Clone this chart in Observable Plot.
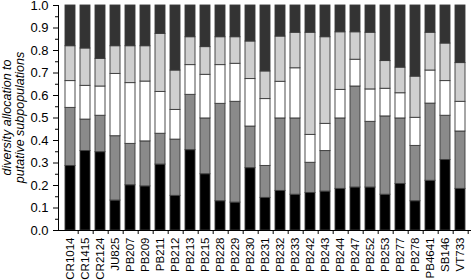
<!DOCTYPE html>
<html>
<head>
<meta charset="utf-8">
<script src="https://cdn.jsdelivr.net/npm/d3@7"></script>
<script src="https://cdn.jsdelivr.net/npm/@observablehq/plot@0.6"></script>
<style>
  html, body { margin: 0; padding: 0; background: #fff; }
  #chart { width: 474px; height: 280px; }
</style>
</head>
<body>
<div id="chart"></div>
<script>
const samples = ["CR1014","CR1415","CR2124","JU825","PB207","PB209","PB211","PB212","PB213","PB215","PB228","PB229","PB230","PB231","PB232","PB233","PB242","PB243","PB244","PB247","PB252","PB253","PB277","PB278","PB4641","SB146","VT733"];

// cumulative boundaries (top of each layer)
const topBlack = [0.287,0.353,0.348,0.133,0.201,0.196,0.293,0.154,0.357,0.250,0.130,0.124,0.277,0.145,0.176,0.159,0.167,0.173,0.185,0.191,0.191,0.159,0.207,0.130,0.221,0.313,0.185];
const topDarkGray = [0.545,0.493,0.510,0.419,0.385,0.396,0.430,0.404,0.603,0.498,0.563,0.572,0.462,0.287,0.498,0.498,0.301,0.353,0.498,0.640,0.483,0.507,0.498,0.376,0.564,0.510,0.440];
const topWhite = [0.664,0.643,0.640,0.696,0.655,0.662,0.616,0.536,0.735,0.692,0.735,0.741,0.673,0.584,0.661,0.721,0.425,0.474,0.625,0.759,0.627,0.630,0.610,0.501,0.711,0.664,0.572];
const topLightGray = [0.819,0.809,0.763,0.819,0.819,0.819,0.874,0.711,0.859,0.815,0.859,0.859,0.840,0.707,0.862,0.879,0.879,0.859,0.881,0.881,0.879,0.753,0.724,0.684,0.879,0.831,0.744];

const layers = ["k1","k2","k3","k4","k5"];
const layerColors = ["#000000","#8a8a8a","#ffffff","#cfcfcf","#333333"];
const yTicks = [0,0.1,0.2,0.3,0.4,0.5,0.6,0.7,0.8,0.9,1.0];
const yMinor = [0.05,0.15,0.25,0.35,0.45,0.55,0.65,0.75,0.85,0.95];
const yLabelLines = ["diversity allocation to", "putative subpopulations"];

const rows = [];
samples.forEach((s, i) => {
  const b = [0, topBlack[i], topDarkGray[i], topWhite[i], topLightGray[i], 1];
  layers.forEach((L, j) => rows.push({sample: s, layer: L, value: b[j + 1] - b[j]}));
});

const font = "'Liberation Sans', Arial, sans-serif";
const step = (474 - 58 - 3) / (samples.length - 0.35 + 0.26);

const chart = Plot.plot({
  width: 474,
  height: 280,
  marginLeft: 58,
  marginRight: 3,
  marginTop: 5,
  marginBottom: 50,
  style: {fontFamily: font, fontSize: "12px", color: "#000", background: "#fff"},
  x: {domain: samples, paddingInner: 0.35, paddingOuter: 0.13, label: null},
  y: {domain: [0, 1], label: null},
  color: {domain: layers, range: layerColors},
  marks: [
    Plot.barY(rows, {x: "sample", y: "value", fill: "layer", stroke: "#3a3a3a", strokeWidth: 0.9}),
    Plot.frame({anchor: "left", stroke: "#000"}),
    Plot.ruleY([0], {stroke: "#000"}),
    Plot.axisY({ticks: yTicks, tickFormat: d3.format(".1f"), tickSize: 5, tickPadding: 5, fontSize: 13, label: null}),
    Plot.axisY({ticks: yMinor, tickFormat: () => "", tickSize: 3, label: null}),
    Plot.axisX({tickSize: 4, tickFormat: () => "", dx: step / 2, label: null}),
    Plot.axisX({tickSize: 0, tickRotate: -90, tickPadding: 7, fontSize: 11.5, label: null})
  ]
});
document.getElementById("chart").appendChild(chart);

// two-line italic y-axis title, centred on the plot frame
const svg = d3.select(chart);
const cy = (5 + 230) / 2;
const t = svg.append("text")
  .attr("transform", `translate(11,${cy}) rotate(-90)`)
  .attr("text-anchor", "middle")
  .attr("font-family", font)
  .attr("font-size", 12.5)
  .attr("font-style", "italic")
  .attr("fill", "#000");
yLabelLines.forEach((line, i) => {
  t.append("tspan").attr("x", 0).attr("dy", i === 0 ? 0 : 13).text(line);
});
</script>
</body>
</html>
